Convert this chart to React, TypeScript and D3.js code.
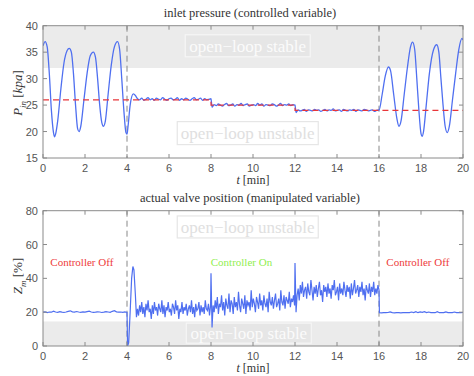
import React from 'react';
import * as d3 from 'd3';

// ---------- data ----------
const xTicks = [0, 2, 4, 6, 8, 10, 12, 14, 16, 18, 20];
const pTicks = [15, 20, 25, 30, 35, 40];
const zTicks = [0, 20, 40, 60, 80];
const switchTimes = [4, 16];

// setpoint (step)
const spTime = [0, 8, 12, 20];
const spValue = [26, 25, 24, 24];

// inlet pressure: open-loop oscillation 0..4.5 min
const pOsc1T = [0, 0.1, 0.2, 0.3, 0.4, 0.5, 0.55, 0.6, 0.7, 0.85, 1.0, 1.15, 1.25, 1.35, 1.45, 1.55, 1.65, 1.72, 1.8, 1.95, 2.1, 2.25, 2.4, 2.5, 2.6, 2.7, 2.8, 2.88, 2.97, 3.1, 3.25, 3.4, 3.55, 3.65, 3.75, 3.85, 3.95, 4.0, 4.05, 4.15, 4.3, 4.4];
const pOsc1V = [36.2, 37, 36, 31, 24, 19.8, 19, 19.5, 22, 28, 33, 35.3, 35.7, 35, 31, 25, 20.5, 20, 21, 26, 31, 34.3, 35, 34, 30, 25, 21.7, 21, 22, 27, 32.5, 36, 37, 35.5, 30, 24, 19.8, 19.5, 21, 25, 27.1, 26.8];
// controlled segments
const pSegA = [26.2, 26.0, 26.3, 25.9, 26.1, 26.4, 26.0, 26.2, 25.9, 26.3, 26.1, 26.0, 26.4, 26.1, 25.9, 26.2, 26.3, 26.0, 26.1, 26.4, 25.9, 26.2, 26.0, 26.3, 26.1, 25.9, 26.2, 26.4, 26.0, 26.1, 26.3, 25.9, 26.2, 26.0, 26.1, 26.2];
const pSegB = [24.6, 25.1, 24.9, 25.2, 25.0, 24.8, 25.1, 25.3, 24.9, 25.0, 25.2, 24.8, 25.1, 25.0, 25.3, 24.9, 25.1, 25.2, 24.8, 25.0, 25.1, 24.9, 25.3, 25.0, 25.2, 24.8, 25.1, 25.0, 24.9, 25.2, 25.1, 24.8, 25.0, 25.3, 24.9, 25.1, 25.0, 25.2, 24.9, 25.1, 25.0];
const pSegC = [23.6, 24.1, 23.9, 24.0, 24.2, 23.8, 24.1, 24.0, 23.9, 24.2, 24.0, 24.1, 23.8, 24.0, 24.2, 23.9, 24.1, 24.0, 24.3, 23.9, 24.0, 24.1, 23.8, 24.2, 24.0, 23.9, 24.1, 24.0, 24.2, 23.8, 24.1, 24.0, 23.9, 24.2, 24.1, 23.9, 24.0, 24.1, 23.8, 24.0, 24.1];
// open-loop again 16..20
const pOsc2T = [16.0, 16.15, 16.3, 16.45, 16.55, 16.7, 16.85, 16.95, 17.05, 17.2, 17.35, 17.5, 17.6, 17.7, 17.8, 17.9, 18.0, 18.05, 18.12, 18.25, 18.4, 18.6, 18.75, 18.85, 18.95, 19.05, 19.15, 19.25, 19.35, 19.5, 19.65, 19.8, 19.95, 20.0];
const pOsc2V = [24, 27, 30.5, 32.2, 31.5, 27, 22.5, 21, 22, 27, 32, 36, 36.9, 35.5, 30, 24, 19.6, 19.1, 20, 25, 31, 35.5, 36.4, 35, 30, 25, 21, 19.8, 21, 26, 31, 35.5, 37.6, 37.3];

// valve position
const zOff1 = [20, 20.2, 19.8, 20.1, 20, 20.6, 20.1, 19.9, 20.3, 20, 19.8, 20.1, 20.5, 20.8, 20.2, 20, 20.4, 20.1, 19.9, 20.2, 20, 20.3, 20.6, 20.1, 19.9, 20, 20.2, 20.1, 19.8, 20, 20.3, 20.1, 19.9, 20.5, 20.9, 20.2, 20, 20.1, 19.9, 20.2, 19.8];
const zKickT = [4.03, 4.08, 4.15, 4.22, 4.28, 4.33, 4.4, 4.45];
const zKickV = [0, 2, 20, 40, 47, 45, 30, 17];
const zOnA = [22, 18, 24, 20, 26, 19, 23, 17, 25, 21, 27, 20, 22, 16, 24, 19, 26, 21, 23, 18, 25, 22, 20, 27, 19, 24, 17, 23, 21, 26, 20, 22, 18, 25, 23, 19, 27, 21, 24, 16, 22, 20, 26, 19, 23, 21, 25, 18, 22, 24, 20, 27, 19, 23, 17, 25, 21, 22, 26, 18, 24, 20, 23, 19, 27, 22, 21, 25, 18, 24];
const zSpike8 = [43, 11];
const zOnB = [24, 20, 27, 22, 29, 19, 25, 23, 30, 21, 26, 18, 28, 24, 22, 31, 20, 27, 25, 19, 29, 23, 26, 21, 32, 24, 20, 28, 25, 22, 30, 19, 27, 24, 26, 21, 33, 23, 28, 25, 20, 29, 26, 22, 31, 24, 27, 21, 30, 25, 23, 28, 20, 32, 26, 24, 29, 22, 27, 31, 23, 25, 28, 21, 33, 26, 24, 30, 22, 29, 27, 25, 32, 23, 28, 26, 30, 24];
const zSpike12 = [49, 20];
const zOnC = [30, 34, 27, 36, 31, 38, 29, 33, 35, 28, 37, 32, 30, 39, 33, 27, 35, 31, 36, 29, 34, 38, 30, 33, 26, 36, 32, 35, 29, 37, 31, 34, 28, 36, 33, 39, 30, 32, 35, 27, 37, 31, 34, 30, 38, 33, 29, 36, 32, 35, 28, 37, 30, 34, 39, 31, 33, 36, 29, 35, 32, 38, 30, 34, 27, 36, 33, 31, 37, 29, 35, 32, 38, 30, 34, 31, 36, 33];
const zOff2 = [19.7, 19.6, 19.7, 19.7, 19.8, 20.2, 19.7, 19.6, 19.7, 19.7, 19.6, 19.7, 19.7, 19.8, 19.7, 20.1, 19.8, 20.3, 19.7, 20.2, 19.9, 20.3, 19.8, 20.1, 19.7, 19.8, 19.7, 20.3, 19.7, 19.8, 19.7, 20.2, 19.7, 19.8, 19.7, 20.1, 19.7, 19.8, 19.7, 19.8];

// annotations
const regionBox = { pStable: [32, 40], zStable: [0, 14.5] };
const labelsP = [
  { text: 'open\u2212loop stable', t: 9.75, v: 36.2, w: 125, h: 22, kind: 'gray' },
  { text: 'open\u2212loop unstable', t: 9.75, v: 19.7, w: 141, h: 23, kind: 'white' },
];
const labelsZ = [
  { text: 'open\u2212loop unstable', t: 9.75, v: 70.4, w: 141, h: 22, kind: 'white' },
  { text: 'open\u2212loop stable', t: 9.8, v: 7.6, w: 125, h: 20, kind: 'gray' },
];
const ctrlLabels = [
  { text: 'Controller Off', t: 1.85, v: 49.5, color: '#ee3b3b' },
  { text: 'Controller On', t: 9.45, v: 49.5, color: '#90ee50' },
  { text: 'Controller Off', t: 17.85, v: 49.5, color: '#ee3b3b' },
];

// ---------- helpers ----------
type Pt = [number, number];
const seg = (t0: number, t1: number, vals: number[]): Pt[] => {
  const s = d3.scaleLinear().domain([0, vals.length - 1]).range([t0, t1]);
  return vals.map((v, i) => [s(i), v] as Pt);
};
const pairs = (ts: number[], vs: number[]): Pt[] => ts.map((t, i) => [t, vs[i]] as Pt);

const pData: Pt[] = [
  ...pairs(pOsc1T, pOsc1V),
  ...seg(4.5, 8.0, pSegA),
  ...seg(8.05, 12.0, pSegB),
  ...seg(12.05, 15.98, pSegC),
  ...pairs(pOsc2T, pOsc2V),
];
const zData: Pt[] = [
  ...seg(0, 4.0, zOff1),
  ...pairs(zKickT, zKickV),
  ...seg(4.5, 7.98, zOnA),
  ...seg(8.0, 8.05, zSpike8),
  ...seg(8.1, 11.98, zOnB),
  ...seg(12.0, 12.05, zSpike12),
  ...seg(12.1, 16.0, zOnC),
  ...seg(16.02, 20, zOff2),
];

const L = 43, R = 463;
const blue = '#4f6ff0';
const axisCol = '#8a8a8a';
const tickTxt = '#555';
const serif = "'Liberation Serif', 'Times New Roman', serif";
const sans = "'Liberation Sans', Arial, sans-serif";

function Panel(props: {
  top: number; bottom: number; domain: [number, number]; ticks: number[];
  id: string; children: (x: any, y: any) => React.ReactNode;
}) {
  const { top, bottom, domain, ticks, id } = props;
  const x = d3.scaleLinear().domain([0, 20]).range([L, R]);
  const y = d3.scaleLinear().domain(domain).range([bottom, top]);
  return (
    <g>
      <defs>
        <clipPath id={id}><rect x={L} y={top} width={R - L} height={bottom - top} /></clipPath>
      </defs>
      <g clipPath={`url(#${id})`}>{props.children(x, y)}</g>
      <rect x={L} y={top} width={R - L} height={bottom - top} fill="none" stroke={axisCol} strokeWidth={1} />
      {xTicks.map((t) => (
        <g key={'x' + t}>
          <line x1={x(t)} x2={x(t)} y1={bottom} y2={bottom - 4} stroke={axisCol} />
          <line x1={x(t)} x2={x(t)} y1={top} y2={top + 4} stroke={axisCol} />
          <text x={x(t)} y={bottom + 14} textAnchor="middle" fontSize={11} fill={tickTxt} fontFamily={sans}>{t}</text>
        </g>
      ))}
      {ticks.map((v) => (
        <g key={'y' + v}>
          <line x1={L} x2={L + 4} y1={y(v)} y2={y(v)} stroke={axisCol} />
          <line x1={R} x2={R - 4} y1={y(v)} y2={y(v)} stroke={axisCol} />
          <text x={L - 5} y={y(v) + 4} textAnchor="end" fontSize={11} fill={tickTxt} fontFamily={sans}>{v}</text>
        </g>
      ))}
      <text x={(L + R) / 2} y={bottom + 26} textAnchor="middle" fontSize={12} fill="#333" fontFamily={serif}>
        <tspan fontStyle="italic">t</tspan> [min]
      </text>
    </g>
  );
}

function BoxLabel({ x, y, l }: { x: any; y: any; l: any }) {
  const cx = x(l.t), cy = y(l.v);
  const gray = l.kind === 'gray';
  return (
    <g>
      <rect x={cx - l.w / 2} y={cy - l.h / 2} width={l.w} height={l.h}
        fill={gray ? '#e6e6e6' : '#ffffff'} stroke={gray ? '#f6f6f6' : '#e6e6e6'} strokeWidth={1.2} />
      <text x={cx} y={cy + 6} textAnchor="middle" fontSize={17} fill={gray ? '#fbfbfb' : '#e0e0e0'}
        fontFamily={serif}>{l.text}</text>
    </g>
  );
}

export default function App() {
  return (
    <svg width={474} height={376} style={{ position: 'absolute', left: 0, top: 0, background: '#fff' }}>
      <text x={250} y={17} textAnchor="middle" fontSize={12.5} fill="#333" fontFamily={serif}>inlet pressure (controlled variable)</text>
      <Panel top={25.7} bottom={158} domain={[15, 40]} ticks={pTicks} id="clipP">
        {(x, y) => {
          const line = d3.line<Pt>().x((d) => x(d[0])).y((d) => y(d[1])).curve(d3.curveMonotoneX);
          const sp = d3.line<Pt>().x((d) => x(d[0])).y((d) => y(d[1])).curve(d3.curveStepAfter);
          return (
            <g>
              <rect x={L} y={y(regionBox.pStable[1])} width={R - L} height={y(regionBox.pStable[0]) - y(regionBox.pStable[1])} fill="#ebebeb" />
              {labelsP.map((l, i) => <BoxLabel key={i} x={x} y={y} l={l} />)}
              {switchTimes.map((t) => (
                <line key={t} x1={x(t)} x2={x(t)} y1={y(40)} y2={y(15)} stroke="#888" strokeDasharray="6,4" strokeWidth={1} />
              ))}
              <path d={line(pData) || ''} fill="none" stroke={blue} strokeWidth={1.3} />
              <path d={sp(pairs(spTime, spValue)) || ''} fill="none" stroke="#e8363a" strokeWidth={1.2} strokeDasharray="6,4" />
            </g>
          );
        }}
      </Panel>
      <text transform="translate(22,93) rotate(-90)" textAnchor="middle" fontSize={13} fill="#333" fontFamily={serif}>
        <tspan fontStyle="italic">P</tspan><tspan fontSize={9} dy={4} fontStyle="italic">in</tspan><tspan dy={-4}> [</tspan><tspan fontStyle="italic">kpa</tspan>]
      </text>

      <text x={250} y={202} textAnchor="middle" fontSize={12.5} fill="#333" fontFamily={serif}>actual valve position (manipulated variable)</text>
      <Panel top={210.7} bottom={346} domain={[0, 80]} ticks={zTicks} id="clipZ">
        {(x, y) => {
          const line = d3.line<Pt>().x((d) => x(d[0])).y((d) => y(d[1]));
          return (
            <g>
              <rect x={L} y={y(regionBox.zStable[1])} width={R - L} height={y(regionBox.zStable[0]) - y(regionBox.zStable[1])} fill="#ebebeb" />
              {labelsZ.map((l, i) => <BoxLabel key={i} x={x} y={y} l={l} />)}
              {switchTimes.map((t) => (
                <line key={t} x1={x(t)} x2={x(t)} y1={y(80)} y2={y(0)} stroke="#888" strokeDasharray="6,4" strokeWidth={1} />
              ))}
              {ctrlLabels.map((c, i) => (
                <text key={i} x={x(c.t)} y={y(c.v) + 4} textAnchor="middle" fontSize={11} fill={c.color} fontFamily={serif}>{c.text}</text>
              ))}
              <path d={line(zData) || ''} fill="none" stroke={blue} strokeWidth={1.2} />
            </g>
          );
        }}
      </Panel>
      <text transform="translate(22,276) rotate(-90)" textAnchor="middle" fontSize={13} fill="#333" fontFamily={serif}>
        <tspan fontStyle="italic">Z</tspan><tspan fontSize={9} dy={4} fontStyle="italic">m</tspan><tspan dy={-4}> [%]</tspan>
      </text>
    </svg>
  );
}
